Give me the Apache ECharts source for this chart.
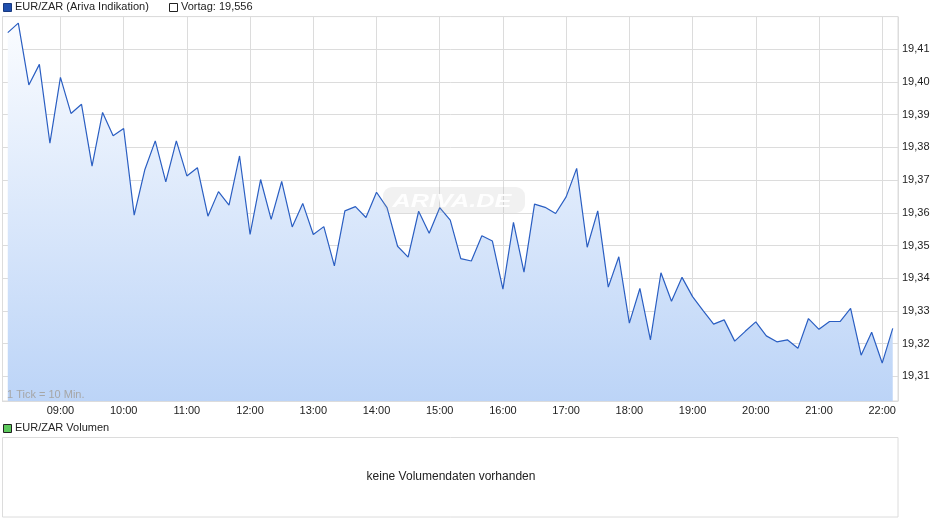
<!DOCTYPE html>
<html>
<head>
<meta charset="utf-8">
<script src="https://cdn.jsdelivr.net/npm/echarts@6/dist/echarts.min.js"></script>
<style>
html,body{margin:0;padding:0;background:#fff;}
#chart{width:940px;height:526px;}
</style>
</head>
<body>
<div id="chart"></div>
<script>
const times = [
 '08:10','08:20','08:30','08:40','08:50',
 '09:00','09:10','09:20','09:30','09:40','09:50',
 '10:00','10:10','10:20','10:30','10:40','10:50',
 '11:00','11:10','11:20','11:30','11:40','11:50',
 '12:00','12:10','12:20','12:30','12:40','12:50',
 '13:00','13:10','13:20','13:30','13:40','13:50',
 '14:00','14:10','14:20','14:30','14:40','14:50',
 '15:00','15:10','15:20','15:30','15:40','15:50',
 '16:00','16:10','16:20','16:30','16:40','16:50',
 '17:00','17:10','17:20','17:30','17:40','17:50',
 '18:00','18:10','18:20','18:30','18:40','18:50',
 '19:00','19:10','19:20','19:30','19:40','19:50',
 '20:00','20:10','20:20','20:30','20:40','20:50',
 '21:00','21:10','21:20','21:30','21:40','21:50',
 '22:00','22:10'
];
const values = [
 19.4151,19.4180,19.3991,19.4054,19.3813,
 19.4014,19.3904,19.3932,19.3743,19.3907,19.3836,
 19.3858,19.3593,19.3731,19.3820,19.3695,19.3820,
 19.3713,19.3738,19.3590,19.3665,19.3624,19.3774,
 19.3534,19.3702,19.3580,19.3696,19.3557,19.3629,
 19.3534,19.3558,19.3438,19.3606,19.3619,19.3586,
 19.3663,19.3616,19.3498,19.3465,19.3605,19.3538,
 19.3616,19.3578,19.3460,19.3453,19.3530,19.3514,
 19.3367,19.3571,19.3419,19.3627,19.3617,19.3598,
 19.3649,19.3736,19.3495,19.3606,19.3373,19.3466,
 19.3263,19.3369,19.3212,19.3417,19.3330,19.3403,
 19.3344,19.3301,19.3260,19.3273,19.3208,19.3238,
 19.3267,19.3224,19.3206,19.3212,19.3186,19.3277,
 19.3244,19.3268,19.3268,19.3308,19.3165,19.3235,
 19.3141,19.3247
];
const axisStart = '08:05';
const axisEnd = '22:15';
const yMin = 19.3025;
const yMax = 19.42;
const yTickLabels = ['19,31','19,32','19,33','19,34','19,35','19,36','19,37','19,38','19,39','19,40','19,41'];
const seriesName = 'EUR/ZAR (Ariva Indikation)';
const prevLabel = 'Vortag: 19,556';
const volumeName = 'EUR/ZAR Volumen';
const volumeNote = 'keine Volumendaten vorhanden';
const tickNote = '1 Tick = 10 Min.';
const watermark = 'ARIVA.DE';

function ts(hhmm){ const p = hhmm.split(':'); return new Date(2024,0,2,+p[0],+p[1]).getTime(); }
const seriesData = times.map((t,i)=>[ts(t), values[i]]);
const FONT = "'Liberation Sans', Arial, sans-serif";

const chart = echarts.init(document.getElementById('chart'), null, {renderer:'canvas'});
chart.setOption({
  animation:false,
  backgroundColor:'#fff',
  grid:{left:2.5, right:42, top:16.6, bottom:125, show:true, borderColor:'#dcdcdc', borderWidth:1, containLabel:false},
  xAxis:{
    type:'time', min:ts(axisStart), max:ts(axisEnd),
    minInterval:3600000, maxInterval:3600000,
    axisLine:{show:true, lineStyle:{color:'#dcdcdc'}},
    axisTick:{show:false},
    splitLine:{show:true, lineStyle:{color:'#dcdcdc', width:1}},
    axisLabel:{
      color:'#222', fontSize:11, fontFamily:FONT, margin:4, hideOverlap:false,
      showMinLabel:false, showMaxLabel:false,
      formatter:function(v){ const d=new Date(v); if(d.getMinutes()!==0) return ''; const h=d.getHours(); return (h<10?'0':'')+h+':00'; },
      rich:{}
    }
  },
  yAxis:{
    type:'value', position:'right', min:yMin, max:yMax, splitNumber:12, scale:true,
    axisLine:{show:false}, axisTick:{show:false},
    splitLine:{show:true, lineStyle:{color:'#dcdcdc', width:1}},
    axisLabel:{
      color:'#222', fontSize:11, fontFamily:FONT, margin:4,
      formatter:function(v){
        const r=Math.round(v*100)/100;
        if(Math.abs(v-r)>1e-6) return '';
        const s=r.toFixed(2).replace('.',',');
        return yTickLabels.indexOf(s)>=0 ? s : '';
      }
    }
  },
  series:[{
    type:'line', name:seriesName, data:seriesData, symbol:'none', smooth:false,
    lineStyle:{color:'#2a5ec2', width:1.2},
    areaStyle:{opacity:1, color:new echarts.graphic.LinearGradient(0,0,0,1,[{offset:0,color:'#fafcff'},{offset:1,color:'#bcd4f7'}])},
    z:3
  }],
  graphic:[
    {type:'rect', left:3, top:3, shape:{width:8, height:8}, style:{fill:'#1f4fad', stroke:'#1a3a80', lineWidth:1}},
    {type:'text', left:15, top:1, style:{text:seriesName, font:'11px '+FONT, fill:'#222'}},
    {type:'rect', left:169, top:3, shape:{width:8, height:8}, style:{fill:'#fff', stroke:'#222', lineWidth:1}},
    {type:'text', left:181, top:1, style:{text:prevLabel, font:'11px '+FONT, fill:'#222'}},
    {type:'text', left:7, top:389, z:10, style:{text:tickNote, font:'11px '+FONT, fill:'#a6a6a6'}},
    {type:'rect', z:5, shape:{x:383, y:187, width:142, height:26, r:9}, style:{fill:'rgba(170,170,170,0.17)'}},
    {type:'text', z:6, x:452, y:201.5, scaleX:1.33, scaleY:1, originX:0, originY:0,
      style:{x:0, y:0, text:watermark, font:'italic bold 19px '+FONT, fill:'rgba(255,255,255,0.92)', align:'center', verticalAlign:'middle'}},
    {type:'rect', left:3, top:424, shape:{width:8, height:8}, style:{fill:'#5cc85c', stroke:'#222', lineWidth:1}},
    {type:'text', left:15, top:422, style:{text:volumeName, font:'11px '+FONT, fill:'#222'}},
    {type:'rect', shape:{x:2.5, y:437.5, width:895.5, height:79.5}, style:{fill:'#fff', stroke:'#dcdcdc', lineWidth:1}},
    {type:'text', x:451, y:477, style:{text:volumeNote, font:'12px '+FONT, fill:'#222', align:'center', verticalAlign:'middle'}}
  ]
});
</script>
</body>
</html>
